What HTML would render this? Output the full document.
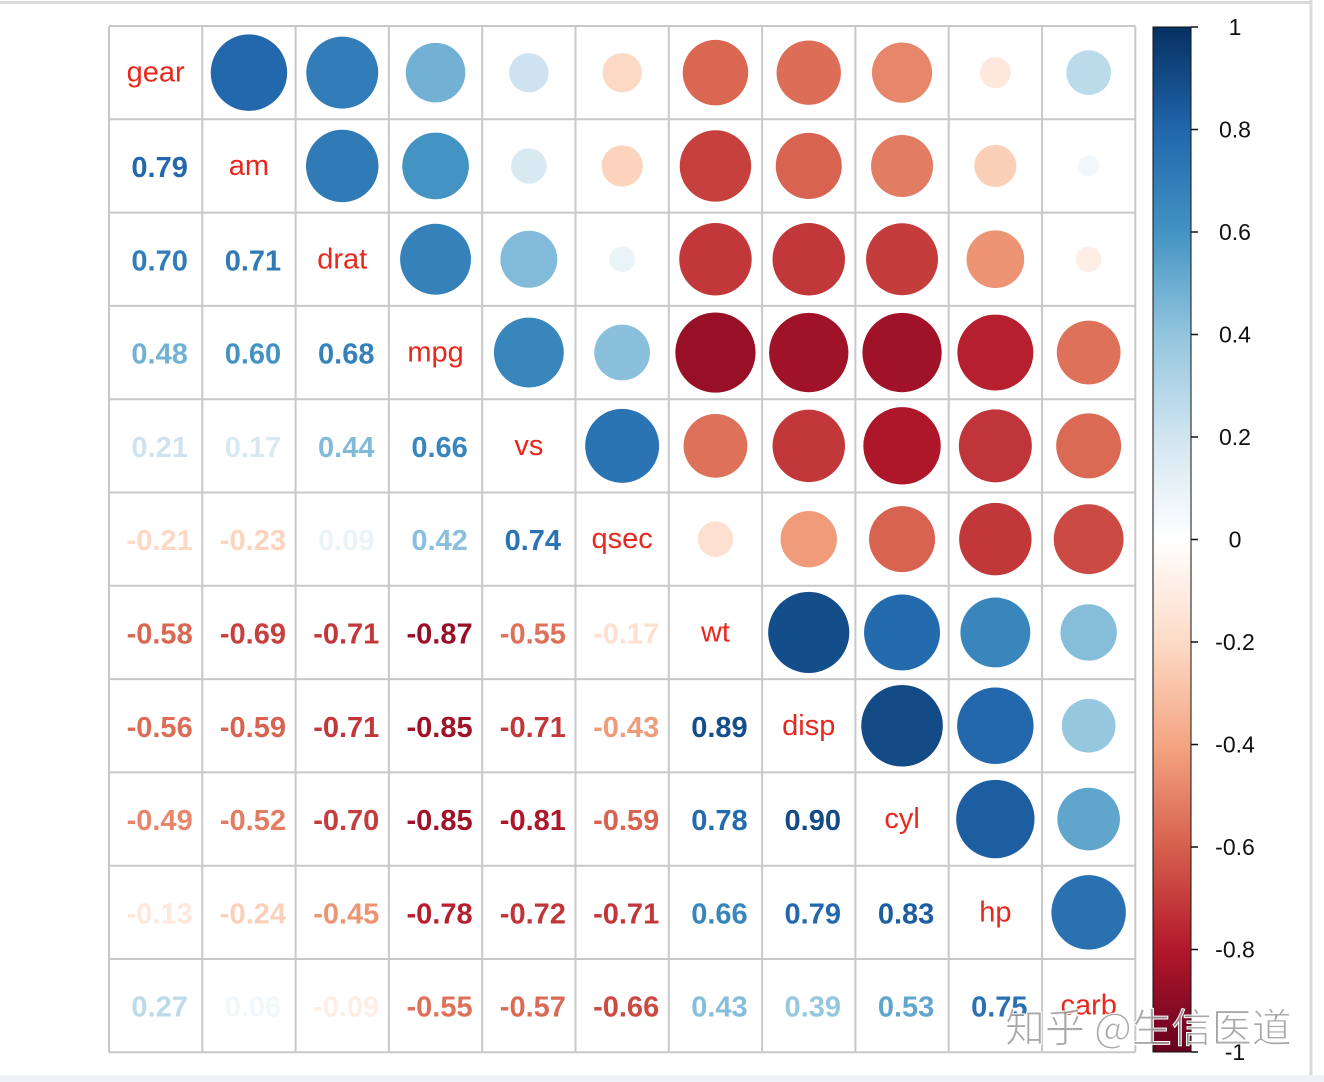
<!DOCTYPE html>
<html><head><meta charset="utf-8"><style>
html,body{margin:0;padding:0;background:#fff;}
svg{display:block;font-family:"Liberation Sans",Arial,sans-serif;}
</style></head><body>
<svg id="chart" width="1324" height="1082">
<rect x="0" y="0" width="1324" height="1082" fill="#fff"/>
<line x1="0" y1="2.5" x2="1311" y2="2.5" stroke="#d8dadd" stroke-width="3"/>
<line x1="1311" y1="0" x2="1311" y2="1076" stroke="#d8dadd" stroke-width="3"/>
<rect x="0" y="1075" width="1324" height="7" fill="#eff1f4"/>
<defs><linearGradient id="cbg" x1="0" y1="1" x2="0" y2="0">
<stop offset="0" stop-color="#67001F"/><stop offset="0.1" stop-color="#B2182B"/><stop offset="0.2" stop-color="#D6604D"/><stop offset="0.3" stop-color="#F4A582"/><stop offset="0.4" stop-color="#FDDBC7"/><stop offset="0.5" stop-color="#FFFFFF"/><stop offset="0.6" stop-color="#D1E5F0"/><stop offset="0.7" stop-color="#92C5DE"/><stop offset="0.8" stop-color="#4393C3"/><stop offset="0.9" stop-color="#2166AC"/><stop offset="1" stop-color="#053061"/>
</linearGradient></defs>
<g id="grid"></g>
<g id="cb"></g>
<text x="1005" y="1042" font-family="'Noto Sans CJK SC',sans-serif" font-size="40" fill="#9a9a9a" fill-opacity="0.85" stroke="#fff" stroke-width="1">知乎 @生信医道</text>
</svg>
<script>
const vars = ["gear","am","drat","mpg","vs","qsec","wt","disp","cyl","hp","carb"];
const lower = [
 [],
 [0.79],
 [0.70,0.71],
 [0.48,0.60,0.68],
 [0.21,0.17,0.44,0.66],
 [-0.21,-0.23,0.09,0.42,0.74],
 [-0.58,-0.69,-0.71,-0.87,-0.55,-0.17],
 [-0.56,-0.59,-0.71,-0.85,-0.71,-0.43,0.89],
 [-0.49,-0.52,-0.70,-0.85,-0.81,-0.59,0.78,0.90],
 [-0.13,-0.24,-0.45,-0.78,-0.72,-0.71,0.66,0.79,0.83],
 [0.27,0.06,-0.09,-0.55,-0.57,-0.66,0.43,0.39,0.53,0.75]
];
const cbTicks = [1,0.8,0.6,0.4,0.2,0,-0.2,-0.4,-0.6,-0.8,-1];
const cbLabels = ["1","0.8","0.6","0.4","0.2","0","-0.2","-0.4","-0.6","-0.8","-1"];

const NS="http://www.w3.org/2000/svg";
const stops=[[-1,[103,0,31]],[-0.8,[178,24,43]],[-0.6,[214,96,77]],[-0.4,[244,165,130]],[-0.2,[253,219,199]],[0,[255,255,255]],[0.2,[209,229,240]],[0.4,[146,197,222]],[0.6,[67,147,195]],[0.8,[33,102,172]],[1,[5,48,97]]];
function col(v){for(let i=0;i<stops.length-1;i++){const a=stops[i],b=stops[i+1];if(v>=a[0]&&v<=b[0]){const t=(v-a[0])/(b[0]-a[0]);const c=a[1].map((x,k)=>Math.round(x+(b[1][k]-x)*t));return `rgb(${c.join(',')})`;}}return "#fff";}
function el(tag,attrs,parent){const e=document.createElementNS(NS,tag);for(const k in attrs)e.setAttribute(k,attrs[k]);parent.appendChild(e);return e;}
const x0=109,y0=26,cw=93.3,n=vars.length;
const xS=j=>x0+j*cw, yS=i=>y0+i*cw;
function val(i,j){return i>j?lower[i][j]:lower[j][i];}
const g=document.getElementById('grid');
for(let i=0;i<n;i++)for(let j=0;j<n;j++){
  const cx=xS(j)+cw/2, cy=yS(i)+cw/2;
  if(i===j){
    const t=el('text',{x:cx,y:cy+9,'text-anchor':'middle','font-size':29,fill:'#E8281E'},g);
    t.textContent=vars[i];
    
    
  } else if(i>j){
    const v=val(i,j);
    const t=el('text',{x:cx+4,y:cy+11,'text-anchor':'middle','font-size':29,'font-weight':'bold',fill:col(v)},g);
    t.textContent=v.toFixed(2);
    
    
  } else {
    const v=val(i,j);
    const c=el('circle',{cx:cx,cy:cy,r:43*Math.sqrt(Math.abs(v)),fill:col(v)},g);
    
    
  }
}
for(let k=0;k<=n;k++){
  const l1=el('line',{x1:xS(k),y1:y0,x2:xS(k),y2:yS(n),stroke:'#c8c8c8','stroke-width':2},g);
  
  
  const l2=el('line',{x1:x0,y1:yS(k),x2:xS(n),y2:yS(k),stroke:'#c8c8c8','stroke-width':2},g);
  
  
}
const cb=document.getElementById('cb');
const cbTop=27,cbBot=1052,cbX=1153,cbW=38;
const cbY=v=>cbBot-(v+1)/2*(cbBot-cbTop);
const bar=el('rect',{x:cbX,y:cbTop,width:cbW,height:cbBot-cbTop,fill:'url(#cbg)',stroke:'#111','stroke-width':1},cb);


cbTicks.forEach((v,k)=>{
  const y=cbY(v);
  const tk=el('line',{x1:cbX+cbW,y1:y,x2:cbX+cbW+7,y2:y,stroke:'#111','stroke-width':1.5},cb);
  
  
  const t=el('text',{x:1235,y:y+8,'text-anchor':'middle','font-size':23,fill:'#111'},cb);
  t.textContent=cbLabels[k];
  
  
});
</script>
</body></html>
